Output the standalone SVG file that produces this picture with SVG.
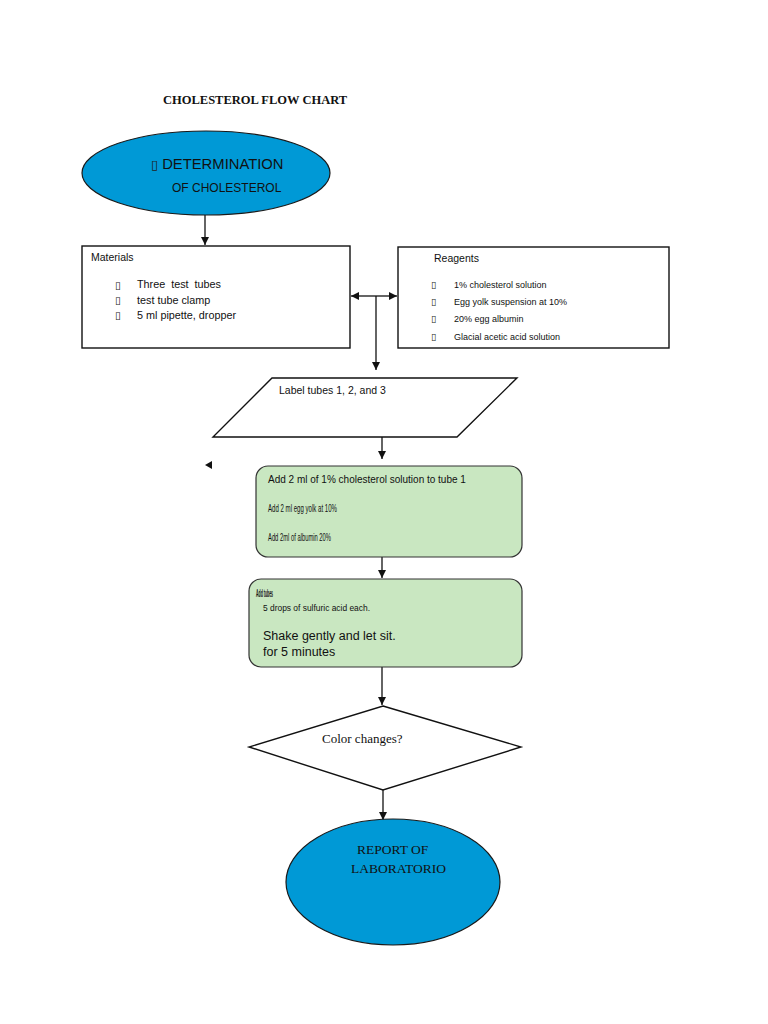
<svg xmlns="http://www.w3.org/2000/svg" width="768" height="1024" viewBox="0 0 768 1024">
<style>
.sans{font-family:"Liberation Sans",Arial,sans-serif;fill:#111}
.serif{font-family:"Liberation Serif","Times New Roman",serif;fill:#111}
.blue{fill:#0099d6;stroke:#1a1a1a;stroke-width:1.2}
.box{fill:#fff;stroke:#111;stroke-width:1.4}
.green{fill:#c9e7c1;stroke:#333;stroke-width:1.2}
.ln{stroke:#111;stroke-width:1.3;fill:none}
.bul{font-family:"DejaVu Sans",sans-serif;fill:#222}
</style>
<defs>
<marker id="ah" viewBox="0 0 10 10" refX="10" refY="5" markerWidth="8" markerHeight="8" markerUnits="userSpaceOnUse" orient="auto"><path d="M0,0 L10,5 L0,10 z" fill="#111"/></marker>
</defs>
<rect width="768" height="1024" fill="#fff"/>
<text class="serif" x="163" y="104" font-size="12.5" font-weight="bold">CHOLESTEROL FLOW CHART</text>

<g id="connectors">
<line class="ln" x1="205" y1="215" x2="205" y2="245" marker-end="url(#ah)"/>
<line class="ln" x1="376" y1="296" x2="351" y2="296" marker-end="url(#ah)"/>
<line class="ln" x1="376" y1="296" x2="397" y2="296" marker-end="url(#ah)"/>
<line class="ln" x1="376" y1="296" x2="376" y2="370" marker-end="url(#ah)"/>
<line class="ln" x1="382" y1="437" x2="382" y2="459" marker-end="url(#ah)"/>
<path d="M212,461 L205,465 L212,469 z" fill="#111"/>
<line class="ln" x1="382" y1="557" x2="382" y2="578" marker-end="url(#ah)"/>
<line class="ln" x1="382" y1="667" x2="382" y2="705" marker-end="url(#ah)"/>
<line class="ln" x1="383" y1="790" x2="383" y2="820" marker-end="url(#ah)"/>
</g>

<g id="start">
<ellipse class="blue" cx="206" cy="173" rx="124" ry="42"/>
<text x="151" y="169" font-size="14.8"><tspan class="bul" font-size="13">▯</tspan><tspan class="sans" dx="4">DETERMINATION</tspan></text>
<text class="sans" x="172" y="192" font-size="12">OF CHOLESTEROL</text>
</g>

<g id="materials">
<rect class="box" x="82" y="246" width="268" height="102"/>
<text class="sans" x="91" y="261" font-size="10.5">Materials</text>
<text class="bul" x="115" y="289" font-size="10.5">▯</text>
<text class="bul" x="115" y="304" font-size="10.5">▯</text>
<text class="bul" x="115" y="319" font-size="10.5">▯</text>
<text class="sans" x="137" y="288" font-size="10.8" xml:space="preserve">Three  test  tubes</text>
<text class="sans" x="137" y="304" font-size="10.8">test tube clamp</text>
<text class="sans" x="137" y="319" font-size="10.8">5 ml pipette, dropper</text>
</g>

<g id="reagents">
<rect class="box" x="398" y="247" width="271" height="101"/>
<text class="sans" x="434" y="262" font-size="10.5">Reagents</text>
<text class="bul" x="431" y="288" font-size="9.5">▯</text>
<text class="bul" x="431" y="305" font-size="9.5">▯</text>
<text class="bul" x="431" y="322" font-size="9.5">▯</text>
<text class="bul" x="431" y="340" font-size="9.5">▯</text>
<text class="sans" x="454" y="288" font-size="9">1% cholesterol solution</text>
<text class="sans" x="454" y="305" font-size="9">Egg yolk suspension at 10%</text>
<text class="sans" x="454" y="322" font-size="9">20% egg albumin</text>
<text class="sans" x="454" y="340" font-size="9">Glacial acetic acid solution</text>
</g>

<g id="label-tubes">
<polygon class="box" points="272,378 517,378 457,437 213,437"/>
<text class="sans" x="279" y="394" font-size="10.5">Label tubes 1, 2, and 3</text>
</g>

<g id="add-step">
<rect class="green" x="256" y="466" width="266" height="91" rx="12"/>
<text class="sans" x="268" y="483" font-size="10">Add 2 ml of 1% cholesterol solution to tube 1</text>
<text class="sans" x="268" y="512" font-size="11" textLength="69" lengthAdjust="spacingAndGlyphs">Add 2 ml egg yolk at 10%</text>
<text class="sans" x="268" y="541" font-size="10.5" textLength="63" lengthAdjust="spacingAndGlyphs">Add 2ml of albumin 20%</text>
</g>

<g id="acid-step">
<rect class="green" x="249" y="579" width="273" height="88" rx="12"/>
<text class="sans" x="256" y="597" font-size="10" font-weight="bold" textLength="17" lengthAdjust="spacingAndGlyphs">Add tubes</text>
<text class="sans" x="263" y="611" font-size="9.5" textLength="107" lengthAdjust="spacingAndGlyphs">5 drops of sulfuric acid each.</text>
<text class="sans" x="263" y="640" font-size="12.5">Shake gently and let sit.</text>
<text class="sans" x="263" y="656" font-size="12.5">for 5 minutes</text>
</g>

<g id="decision">
<polygon class="box" points="383,706 521,747 383,790 249,747"/>
<text class="serif" x="322" y="743" font-size="13">Color changes?</text>
</g>

<g id="report">
<ellipse class="blue" cx="393" cy="882" rx="107" ry="63"/>
<text class="serif" x="357" y="854" font-size="13.5">REPORT OF</text>
<text class="serif" x="351" y="873" font-size="13.5">LABORATORIO</text>
</g>
</svg>
